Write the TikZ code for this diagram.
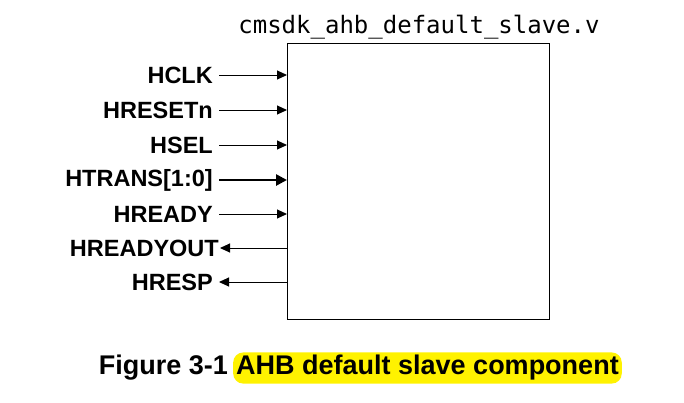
\documentclass[tikz,border=0pt]{standalone}
\usepackage{fontspec}
\setmainfont{Liberation Sans}
\setmonofont{DejaVu Sans Mono}
\usetikzlibrary{arrows.meta}
\begin{document}
\begin{tikzpicture}[x=1pt,y=-1pt,
  sig/.style={font=\fontsize{23.5}{28}\selectfont\bfseries,anchor=east,inner sep=0pt},
  inarr/.style={draw,line width=1pt,-{Triangle[length=10pt,width=9pt]}},
  busarr/.style={draw,line width=2.6pt,-{Triangle[length=11pt,width=11pt]}}]
\useasboundingbox (0,0) rectangle (684,402);
\node[draw,line width=1pt,minimum width=262pt,minimum height=276pt,anchor=north west,inner sep=0pt] (box) at (287,43) {};
\node[font=\ttfamily\fontsize{24}{28}\selectfont] (title) at (419,27) {cmsdk\_ahb\_default\_slave.v};
\foreach \n/\t/\y in {a/HCLK/75,b/HRESETn/110,c/HSEL/145,e/HREADY/214}{
  \node[sig] (\n) at (213,\y) {\t};
  \coordinate (\n t) at (287,\y);
  \draw[inarr] ([xshift=6pt]\n.east) -- (\n t);
}
\node[sig] (d) at (213,180) {HTRANS[1:0]};
\coordinate (dt) at (287,180);
\draw[busarr] ([xshift=6pt]d.east) -- (dt);
\node[sig] (f) at (219,248) {HREADYOUT};
\coordinate (fs) at (287,248);
\draw[inarr] (fs) -- ([xshift=1pt]f.east);
\node[sig] (g) at (213,282) {HRESP};
\coordinate (gs) at (287,282);
\draw[inarr] (gs) -- ([xshift=6pt]g.east);
\node[font=\fontsize{27}{31}\selectfont\bfseries,anchor=east,inner sep=0pt] (fig) at (228,368) {Figure 3-1};
\node[font=\fontsize{27}{31}\selectfont\bfseries,anchor=west,fill=yellow,rounded corners=10pt,inner xsep=3pt,inner ysep=3pt] (cap) at (233,368) {AHB default slave component};
\end{tikzpicture}
\end{document}
